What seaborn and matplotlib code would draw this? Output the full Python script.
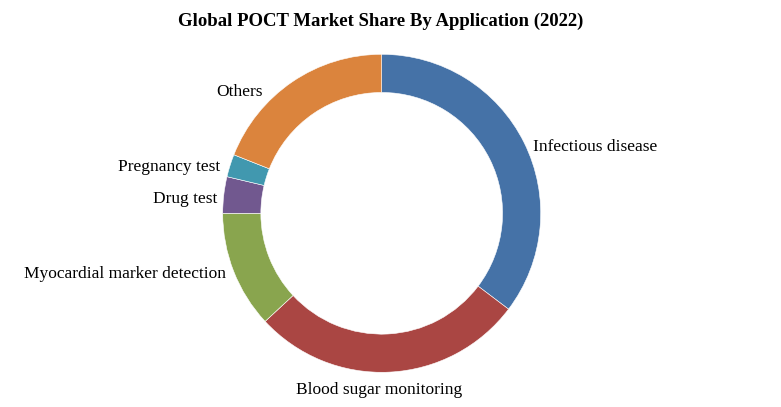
import numpy as np
import matplotlib
matplotlib.use("Agg")
import matplotlib.pyplot as plt
import seaborn as sns

applications = ["Infectious disease", "Blood sugar monitoring", "Myocardial marker detection",
                "Drug test", "Pregnancy test", "Others"]
shares = [35.3, 27.8, 11.9, 3.7, 2.3, 19.0]
colors = ["#4572A7", "#AA4643", "#89A54E", "#71588F", "#4198AF", "#DB843D"]

sns.set_theme(style="white")
plt.rcParams['font.family'] = ['Liberation Serif', 'DejaVu Serif']

fig = plt.figure(figsize=(7.81, 4.07), dpi=100)
ax = fig.add_axes([0, 0, 1, 1])

wedges, _ = ax.pie(shares, colors=colors, startangle=90, counterclock=False,
                   radius=1.0, wedgeprops=dict(width=0.24, edgecolor="white", linewidth=0.4))

# pie resets limits, so map data units to pixels afterwards (ring centre 381.7,213.3, r=159px)
ax.set_aspect("auto")
ax.set_xlim(-381.7 / 159, (781 - 381.7) / 159)
ax.set_ylim(-(407 - 213.3) / 159, 213.3 / 159)
ax.axis("off")

# labels placed just outside each wedge's middle, with small nudges
label_dist = [1.06, 1.09, 1.05, 1.06, 1.07, 1.1]
nudges = [(0, -0.053), (-0.068, -0.025), (0, 0), (0.019, -0.031), (0.006, -0.028), (-0.13, -0.147)]
for w, name, d, (nx, ny) in zip(wedges, applications, label_dist, nudges):
    mid = np.deg2rad((w.theta1 + w.theta2) / 2)
    x, y = d * np.cos(mid) + nx, d * np.sin(mid) + ny
    if abs(x) < 0.15:
        ha = "center"
    else:
        ha = "left" if x > 0 else "right"
    ax.text(x, y, name, ha=ha, va="center", fontsize=12.5, color="black")

fig.text(0.487, 0.948, "Global POCT Market Share By Application (2022)",
         ha="center", va="center", fontsize=13.5, fontweight="bold", color="black")

fig.savefig("out.png", dpi=100, facecolor="white")
